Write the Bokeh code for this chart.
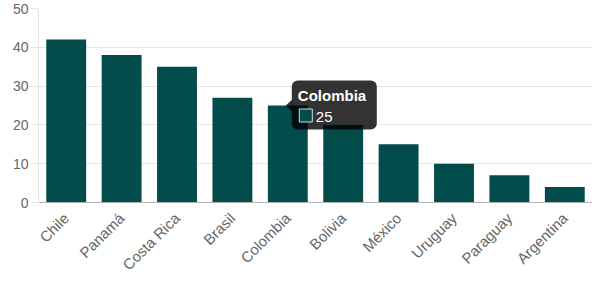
import math
from bokeh.plotting import figure
from bokeh.models import FactorRange, Range1d, BoxAnnotation, ColumnDataSource
from bokeh.core.properties import value
from bokeh.embed import file_html
from bokeh.resources import INLINE

countries = ["Chile", "Panamá", "Costa Rica", "Brasil", "Colombia",
             "Bolivia", "México", "Uruguay", "Paraguay", "Argentina"]
values = [42, 38, 35, 27, 25, 20, 15, 10, 7, 4]
y_ticks = [0, 10, 20, 30, 40, 50]
tooltip_country = "Colombia"

BAR = "#024c4c"
TEXT = "#666666"
FONT = "Liberation Sans"

W, H = 592, 296
LEFT, TOP, BOTTOM = 38, 8, 94
frame_w = W - LEFT
frame_h = H - TOP - BOTTOM

p = figure(width=W, height=H, x_range=FactorRange(factors=countries, range_padding=0, factor_padding=0),
           y_range=Range1d(0, 50), output_backend="svg", toolbar_location=None,
           min_border_left=LEFT, min_border_right=0, min_border_top=TOP, min_border_bottom=BOTTOM)
p.outline_line_color = None
p.background_fill_color = "white"
p.border_fill_color = "white"

src = ColumnDataSource(dict(x=countries, top=values))
p.vbar(x="x", top="top", width=0.72, source=src, fill_color=BAR, line_color=None)

# axes
p.xgrid.grid_line_color = None
p.ygrid.grid_line_color = "#e6e6e6"
p.yaxis.ticker = y_ticks
p.yaxis.axis_line_color = "#e6e6e6"
p.yaxis.major_tick_line_color = "#e6e6e6"
p.yaxis.major_tick_out = 8
p.yaxis.major_tick_in = 0
p.yaxis.minor_tick_line_color = None
p.yaxis.major_label_standoff = 2
p.yaxis.major_label_text_font = FONT
p.yaxis.major_label_text_font_size = "14px"
p.yaxis.major_label_text_color = TEXT

p.xaxis.axis_line_color = "#b3b3b3"
p.xaxis.major_tick_line_color = None
p.xaxis.minor_tick_line_color = None
p.xaxis.major_label_orientation = math.pi / 4
p.xaxis.major_label_standoff = 7
p.xaxis.major_label_text_font = FONT
p.xaxis.major_label_text_font_size = "15px"
p.xaxis.major_label_text_color = TEXT

# tooltip (static) anchored at the Colombia bar top
idx = countries.index(tooltip_country)
val = values[idx]
cx = idx + 0.5
px_x = len(countries) / frame_w      # data units per px (x)
px_y = 50 / frame_h                   # data units per px (y)

box_left = cx + 4 * px_x
box_right = box_left + 85 * px_x
box_top = val + 25 * px_y
box_bottom = val - 24 * px_y
p.add_layout(BoxAnnotation(left=box_left, right=box_right, top=box_top, bottom=box_bottom,
                           fill_color="black", fill_alpha=0.8, line_alpha=0, border_radius=6))
p.patch([cx - 2 * px_x, box_left + 0.5 * px_x, box_left + 0.5 * px_x],
        [val, val + 6 * px_y, val - 6 * px_y], fill_color="black", fill_alpha=0.8, line_color=None)

r1 = p.text(x=[box_left + 6 * px_x], y=[val + 10 * px_y], text=[tooltip_country],
            text_font=value(FONT), text_font_size="15px", text_font_style="bold",
            text_color="white", text_baseline="middle", text_align="left")
r2 = p.rect(x=[box_left + 14 * px_x], y=[val - 10 * px_y], width=13, height=13,
            width_units="screen", height_units="screen", fill_color=BAR, line_color="#cfdcdc", line_width=1)
r3 = p.text(x=[box_left + 24 * px_x], y=[val - 11 * px_y], text=[str(val)],
            text_font=value(FONT), text_font_size="15px",
            text_color="white", text_baseline="middle", text_align="left")
for r in (r1, r2, r3):
    r.level = "overlay"

open("out.html", "w").write(file_html(p, INLINE))
